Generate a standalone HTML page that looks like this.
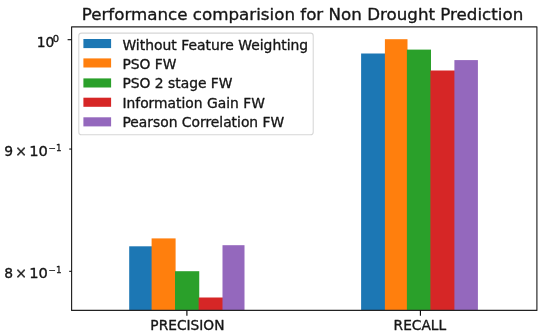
<!DOCTYPE html>
<html><head><meta charset="utf-8"><title>Performance comparision for Non Drought Prediction</title>
<style>html,body{margin:0;padding:0;background:#fff}body{width:550px;height:334px;overflow:hidden}</style></head>
<body>
<svg width="550" height="334" viewBox="0 0 550 334" style="display:block;font-family:'DejaVu Sans','Liberation Sans',sans-serif" fill="#161616" stroke="#161616" stroke-width="0.25" stroke-linejoin="round">
<defs><filter id="soft" x="0" y="0" width="100%" height="100%" filterUnits="objectBoundingBox"><feGaussianBlur stdDeviation="0.6"/></filter></defs>
<rect width="550" height="334" fill="#fff" stroke="none"/>
<g filter="url(#soft)">
<rect x="-5" y="-5" width="560" height="344" fill="#fff" stroke="none"/>
<rect x="129.20" y="246.30" width="23.00" height="64.10" fill="#1f77b4" stroke="none"/>
<rect x="151.60" y="238.40" width="24.00" height="72.00" fill="#ff7f0e" stroke="none"/>
<rect x="175.00" y="271.20" width="24.25" height="39.20" fill="#2ca02c" stroke="none"/>
<rect x="198.65" y="297.50" width="24.45" height="12.90" fill="#d62728" stroke="none"/>
<rect x="222.50" y="245.20" width="22.00" height="65.20" fill="#9467bd" stroke="none"/>
<rect x="361.10" y="53.50" width="24.40" height="256.90" fill="#1f77b4" stroke="none"/>
<rect x="384.90" y="39.20" width="22.60" height="271.20" fill="#ff7f0e" stroke="none"/>
<rect x="406.90" y="49.60" width="24.10" height="260.80" fill="#2ca02c" stroke="none"/>
<rect x="430.40" y="70.50" width="24.60" height="239.90" fill="#d62728" stroke="none"/>
<rect x="454.40" y="60.10" width="23.50" height="250.30" fill="#9467bd" stroke="none"/>
<rect x="71.6" y="26.8" width="465.30" height="283.60" fill="none" stroke="#222" stroke-width="1.15"/>
<line x1="186.9" x2="186.9" y1="310.4" y2="315.7" stroke="#000" stroke-width="1.1"/>
<line x1="420.4" x2="420.4" y1="310.4" y2="315.7" stroke="#000" stroke-width="1.1"/>
<line x1="67.6" x2="71.6" y1="39.7" y2="39.7" stroke="#000" stroke-width="1.05"/>
<line x1="69.19999999999999" x2="71.6" y1="149.06" y2="149.06" stroke="#000" stroke-width="1.0"/>
<line x1="69.19999999999999" x2="71.6" y1="271.31" y2="271.31" stroke="#000" stroke-width="1.0"/>
<text transform="translate(187.40 330.40) scale(1.375 1.385)" font-size="10" text-anchor="middle" >PRECISION</text>
<text transform="translate(419.90 330.40) scale(1.375 1.385)" font-size="10" text-anchor="middle" >RECALL</text>
<text transform="translate(36.75 47.10) scale(1.385 1.385)" font-size="10" text-anchor="start" >10</text>
<text transform="translate(52.85 42.10) scale(1.385 1.19)" font-size="7.2" text-anchor="start" >0</text>
<text transform="translate(4.35 156.06) scale(1.385 1.385)" font-size="10" text-anchor="start" >9<tspan dx="1.6">×</tspan></text>
<text transform="translate(29.25 156.06) scale(1.468 1.385)" font-size="10" text-anchor="start" >10</text>
<text transform="translate(61.55 151.06) scale(1.19 1.1)" font-size="7.4" text-anchor="end" >−1</text>
<text transform="translate(4.35 278.31) scale(1.385 1.385)" font-size="10" text-anchor="start" >8<tspan dx="1.6">×</tspan></text>
<text transform="translate(29.25 278.31) scale(1.468 1.385)" font-size="10" text-anchor="start" >10</text>
<text transform="translate(61.55 273.31) scale(1.19 1.1)" font-size="7.4" text-anchor="end" >−1</text>
<text transform="translate(302.50 19.75) scale(1.3926 1.325)" font-size="12" text-anchor="middle" >Performance comparision for Non Drought Prediction</text>
<rect x="78.8" y="33.1" width="234.40" height="101.70" rx="2.7" ry="2.6" fill="#fff" fill-opacity="0.8" stroke="#d6d6d6" stroke-width="1.05"/>
<rect x="83.4" y="39.00" width="27.7" height="9.1" fill="#1f77b4" stroke="none"/>
<text transform="translate(122.40 49.50) scale(1.3925 1.385)" font-size="10" text-anchor="start" >Without Feature Weighting</text>
<rect x="83.4" y="58.40" width="27.7" height="9.1" fill="#ff7f0e" stroke="none"/>
<text transform="translate(122.40 69.20) scale(1.385 1.385)" font-size="10" text-anchor="start" >PSO FW</text>
<rect x="83.4" y="78.40" width="27.7" height="9.1" fill="#2ca02c" stroke="none"/>
<text transform="translate(122.40 88.40) scale(1.385 1.385)" font-size="10" text-anchor="start" >PSO 2 stage FW</text>
<rect x="83.4" y="97.70" width="27.7" height="9.1" fill="#d62728" stroke="none"/>
<text transform="translate(122.40 107.90) scale(1.385 1.385)" font-size="10" text-anchor="start" >Information Gain FW</text>
<rect x="83.4" y="117.30" width="27.7" height="9.1" fill="#9467bd" stroke="none"/>
<text transform="translate(122.40 127.40) scale(1.385 1.385)" font-size="10" text-anchor="start" >Pearson Correlation FW</text>
</g>
</svg>
</body></html>
